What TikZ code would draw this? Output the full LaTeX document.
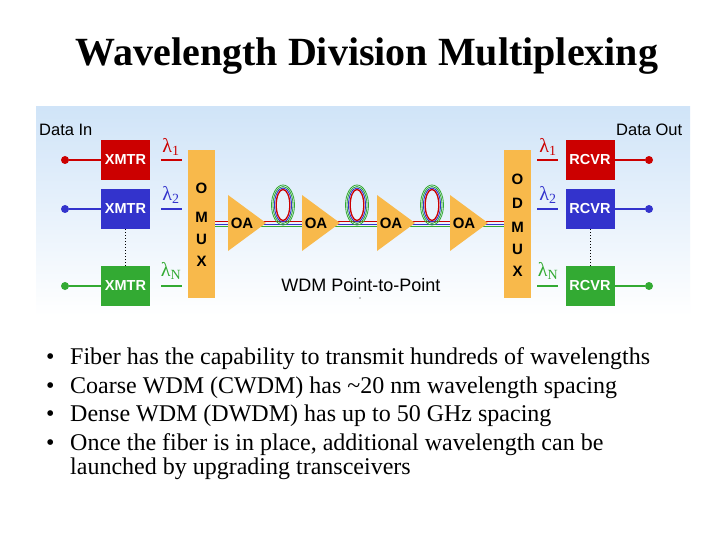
\documentclass[tikz,border=0pt]{standalone}
\usepackage{fontspec}
\setmainfont{Liberation Serif}
\newfontfamily\arial{Liberation Sans}
\begin{document}
\begin{tikzpicture}[x=1pt,y=-1pt,
  box/.style={minimum width=49pt,minimum height=40pt,inner sep=0pt,font=\arial\bfseries\fontsize{14.5}{14.5}\selectfont,text=white},
  orng/.style={fill=worange,draw=none},
  lam/.style={font=\fontsize{20}{20}\selectfont,inner sep=0pt},
  dotc/.style={circle,inner sep=0pt,minimum size=8pt},
  oal/.style={font=\arial\bfseries\fontsize{15}{15}\selectfont,inner sep=0pt},
  mux/.style={font=\arial\bfseries\fontsize{15}{15}\selectfont,inner sep=0pt},
  bul/.style={font=\fontsize{24}{24}\selectfont,anchor=base west,inner sep=0pt}]
\definecolor{wred}{RGB}{204,0,0}
\definecolor{wblue}{RGB}{51,51,204}
\definecolor{wgreen}{RGB}{51,170,51}
\definecolor{worange}{RGB}{248,185,75}
\definecolor{wbg}{RGB}{208,228,248}
\useasboundingbox (0,0) rectangle (720,540);
\fill[white] (0,0) rectangle (720,540);
\node[font=\bfseries\fontsize{40}{40}\selectfont,anchor=base] (title) at (367,66) {Wavelength Division Multiplexing};
\shade[top color=wbg,bottom color=white] (36,107) rectangle (690,316);
% text
\node[font=\arial\fontsize{16.5}{16.5}\selectfont,anchor=base west,inner sep=0pt] (din) at (39,136) {Data In};
\node[font=\arial\fontsize{16.5}{16.5}\selectfont,anchor=base west,inner sep=0pt] (dout) at (616,136) {Data Out};
\node[font=\arial\fontsize{18}{18}\selectfont,anchor=base,inner sep=0pt] (wdm) at (361,291) {WDM Point-to-Point};
\fill[black] (360,298) circle (0.6);
% transmitters
\foreach \c/\y/\n in {wred/160/a,wblue/209/b,wgreen/286/c}{
  \node[box,fill=\c] (x\n) at (125.5,\y) {XMTR};
  \node[box,fill=\c] (r\n) at (590,\y) {RCVR};
  \node[dotc,fill=\c] (di\n) at (65,\y) {};
  \node[dotc,fill=\c] (do\n) at (649,\y) {};
  \draw[\c,line width=1.3pt] (di\n) -- (x\n);
  \draw[\c,line width=1.3pt] (r\n) -- (do\n);
  \coordinate (l\n1) at (161,\y);\coordinate (l\n2) at (182,\y);
  \draw[\c,line width=1.6pt] (l\n1) -- (l\n2);
  \coordinate (m\n1) at (537,\y);\coordinate (m\n2) at (558,\y);
  \draw[\c,line width=1.6pt] (m\n1) -- (m\n2);
}
\draw[dotted,line width=1pt] (xb.south) -- (xc.north);
\draw[dotted,line width=1pt] (rb.south) -- (rc.north);
\node[lam,text=wred] (la1) at (171,147) {λ\textsubscript{1}};
\node[lam,text=wblue] (la2) at (171,195) {λ\textsubscript{2}};
\node[lam,text=wgreen] (la3) at (171,271) {λ\textsubscript{N}};
\node[lam,text=wred] (lb1) at (548,147) {λ\textsubscript{1}};
\node[lam,text=wblue] (lb2) at (548,195) {λ\textsubscript{2}};
\node[lam,text=wgreen] (lb3) at (548,271) {λ\textsubscript{N}};
% mux boxes
\node[orng,minimum width=27pt,minimum height=148pt,inner sep=0pt] (omux) at (201.5,224) {};
\node[orng,minimum width=27pt,minimum height=148pt,inner sep=0pt] (odmux) at (517.5,224) {};
\foreach \t/\y in {O/188,M/217,U/239,X/261} \node[mux] at (201.5,\y) {\t};
\foreach \t/\y in {O/179,D/203,M/227,U/249,X/271} \node[mux] at (517.5,\y) {\t};
% fiber
\draw[wgreen,line width=0.9pt] (omux.east|-0,226) -- (odmux.west|-0,226);
\draw[wblue,line width=0.9pt] (omux.east|-0,224) -- (odmux.west|-0,224);
\draw[wred,line width=1.3pt] (omux.east|-0,221.5) -- (odmux.west|-0,221.5);
% amplifiers
\foreach \x/\n in {228/1,302/2,377/3,450/4}{
  \fill[worange] (\x,195) -- (\x+38,223) -- (\x,251) -- cycle;
  \node[oal] (oa\n) at (\x+14,223) {OA};
}
% loops
\foreach \x in {283,357,432}{
  \draw[wgreen,line width=0.8pt] (\x,205) ellipse (11.5 and 20);
  \draw[wgreen,line width=0.8pt] (\x,205) ellipse (10 and 18.5);
  \draw[wblue,line width=0.9pt] (\x,205) ellipse (8.5 and 17);
  \draw[wred,line width=1.3pt] (\x,205) ellipse (6.8 and 15.5);
}
% bullets
\foreach \y/\t in {364/Fiber has the capability to transmit hundreds of wavelengths,
  393/Coarse WDM (CWDM) has \textasciitilde20 nm wavelength spacing,
  421/Dense WDM (DWDM) has up to 50 GHz spacing,
  450/{Once the fiber is in place, additional wavelength can be}}{
  \node[bul] at (46,\y) {•};
  \node[bul] at (70,\y) {\t};
}
\node[bul] at (70,474) {launched by upgrading transceivers};
\end{tikzpicture}
\end{document}
